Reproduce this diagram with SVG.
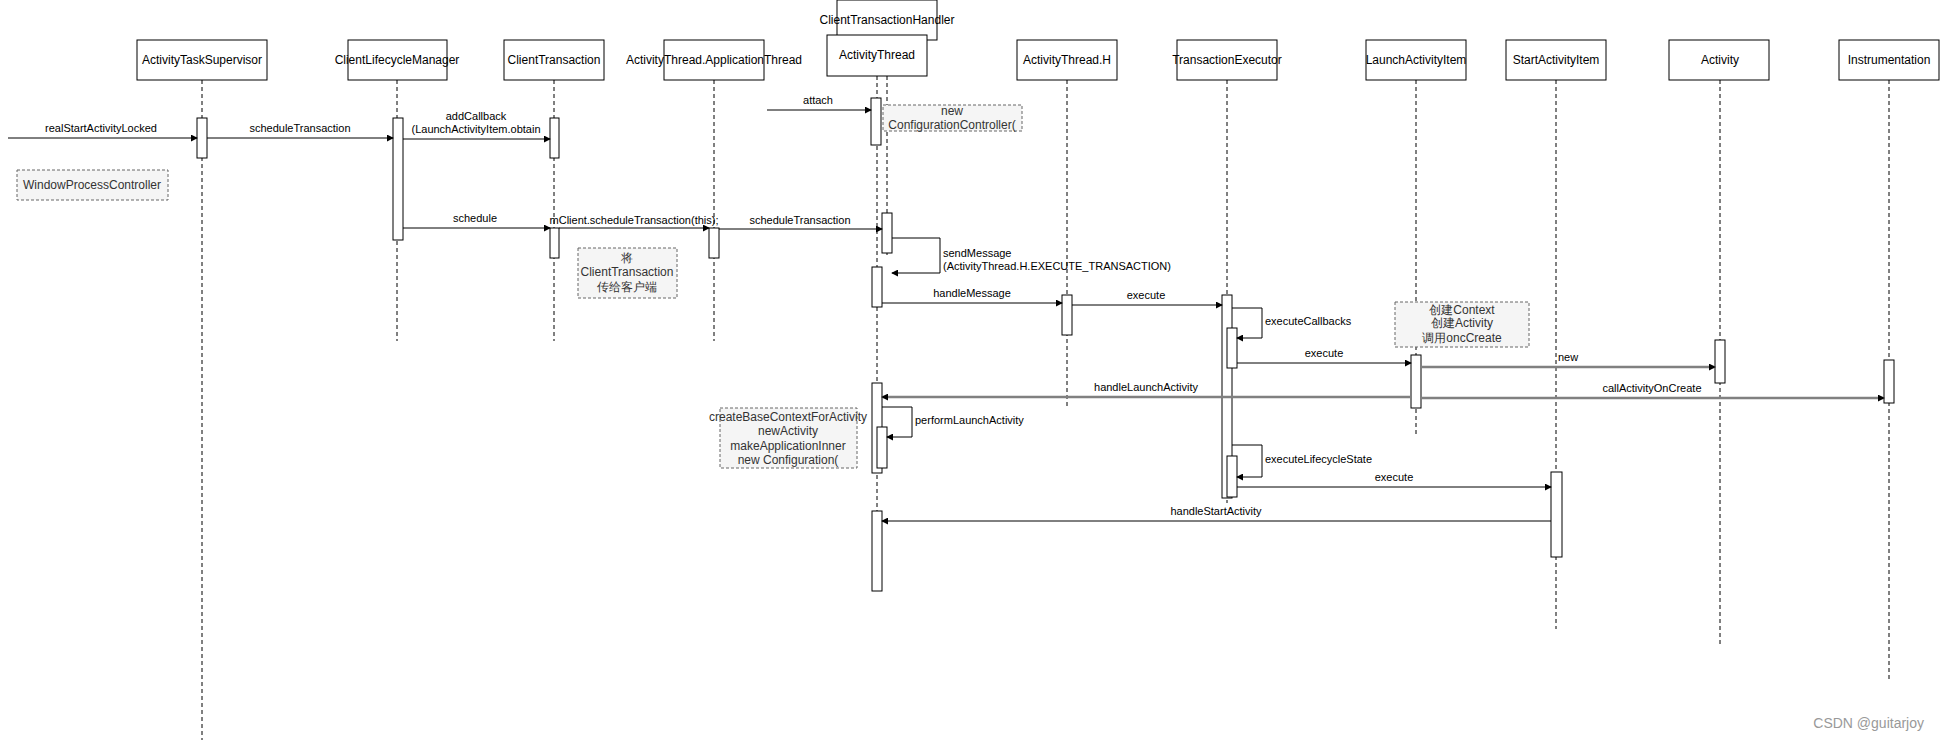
<svg xmlns="http://www.w3.org/2000/svg" width="1942" height="741" viewBox="0 0 1942 741">
<style>
text{font-family:"Liberation Sans",Arial,sans-serif;font-size:11px;fill:#000}
.c{text-anchor:middle}
.hd{fill:#fff;stroke:#000;stroke-width:1}
.hd+text{font-size:12px}
.ll{stroke:#000;stroke-dasharray:4 3;fill:none}
.act{fill:#fff;stroke:#000}
.m{stroke:#000;fill:none;marker-end:url(#a)}
.g{stroke:#808080;stroke-width:2.5;fill:none;marker-end:url(#a)}
.note{fill:#f5f5f5;stroke:#666;stroke-dasharray:3 2}
.nt{fill:#333;font-size:12px}
</style>
<defs><marker id="a" viewBox="0 0 8 8" refX="7" refY="4" markerWidth="7" markerHeight="7" markerUnits="userSpaceOnUse" orient="auto"><path d="M0,0L8,4L0,8z" fill="#000"/></marker></defs>
<rect width="1942" height="741" fill="#fff"/>
<g id="ClientTransactionHandler"><rect class="hd" x="837" y="0" width="100" height="40"/><text class="c" x="887" y="24">ClientTransactionHandler</text><line class="ll" x1="887" y1="76" x2="887" y2="258"/></g>
<g id="ActivityTaskSupervisor"><line class="ll" x1="202" y1="80" x2="202" y2="740"/><rect class="hd" x="137" y="40" width="130" height="40"/><text class="c" x="202" y="64">ActivityTaskSupervisor</text></g>
<g id="ClientLifecycleManager"><line class="ll" x1="397" y1="80" x2="397" y2="341"/><rect class="hd" x="348" y="40" width="99" height="40"/><text class="c" x="397" y="64">ClientLifecycleManager</text></g>
<g id="ClientTransaction"><line class="ll" x1="554" y1="80" x2="554" y2="341"/><rect class="hd" x="504" y="40" width="100" height="40"/><text class="c" x="554" y="64">ClientTransaction</text></g>
<g id="ApplicationThread"><line class="ll" x1="714" y1="80" x2="714" y2="341"/><rect class="hd" x="664" y="40" width="100" height="40"/><text class="c" x="714" y="64">ActivityThread.ApplicationThread</text></g>
<g id="ActivityThread"><line class="ll" x1="877" y1="76" x2="877" y2="591"/><rect class="hd" x="827" y="35" width="100" height="41"/><text class="c" x="877" y="59">ActivityThread</text></g>
<g id="ActivityThreadH"><line class="ll" x1="1067" y1="80" x2="1067" y2="407"/><rect class="hd" x="1017" y="40" width="100" height="40"/><text class="c" x="1067" y="64">ActivityThread.H</text></g>
<g id="TransactionExecutor"><line class="ll" x1="1227" y1="80" x2="1227" y2="503"/><rect class="hd" x="1177" y="40" width="100" height="40"/><text class="c" x="1227" y="64">TransactionExecutor</text></g>
<g id="LaunchActivityItem"><line class="ll" x1="1416" y1="80" x2="1416" y2="437"/><rect class="hd" x="1366" y="40" width="100" height="40"/><text class="c" x="1416" y="64">LaunchActivityItem</text></g>
<g id="StartActivityItem"><line class="ll" x1="1556" y1="80" x2="1556" y2="629"/><rect class="hd" x="1506" y="40" width="100" height="40"/><text class="c" x="1556" y="64">StartActivityItem</text></g>
<g id="Activity"><line class="ll" x1="1720" y1="80" x2="1720" y2="647"/><rect class="hd" x="1669" y="40" width="100" height="40"/><text class="c" x="1720" y="64">Activity</text></g>
<g id="Instrumentation"><line class="ll" x1="1889" y1="80" x2="1889" y2="682"/><rect class="hd" x="1839" y="40" width="100" height="40"/><text class="c" x="1889" y="64">Instrumentation</text></g>
<g id="activations">
<rect class="act" x="197" y="118" width="10" height="40"/>
<rect class="act" x="393" y="118" width="10" height="122"/>
<rect class="act" x="550" y="118" width="9" height="40"/>
<rect class="act" x="550" y="228" width="9" height="30"/>
<rect class="act" x="709" y="228" width="10" height="30"/>
<rect class="act" x="871" y="98" width="10" height="47"/>
<rect class="act" x="882" y="213" width="10" height="40"/>
<rect class="act" x="872" y="267" width="10" height="40"/>
<rect class="act" x="872" y="383" width="10" height="90"/>
<rect class="act" x="877" y="427" width="10" height="41"/>
<rect class="act" x="872" y="511" width="10" height="80"/>
<rect class="act" x="1062" y="295" width="10" height="40"/>
<rect class="act" x="1222" y="295" width="10" height="203"/>
<rect class="act" x="1227" y="328" width="10" height="40"/>
<rect class="act" x="1227" y="456" width="10" height="41"/>
<rect class="act" x="1411" y="355" width="10" height="53"/>
<rect class="act" x="1715" y="340" width="10" height="43"/>
<rect class="act" x="1884" y="360" width="10" height="43"/>
<rect class="act" x="1551" y="472" width="11" height="85"/>
</g>
<g id="notes">
<rect class="note" x="17" y="170" width="151" height="30"/><text class="c nt" x="92" y="189">WindowProcessController</text>
<rect class="note" x="883" y="105" width="139" height="26"/><text class="c nt" x="952" y="115">new</text><text class="c nt" x="952" y="129">ConfigurationController(</text>
<rect class="note" x="578" y="248" width="99" height="50"/><text class="c nt" x="627" y="262">将</text><text class="c nt" x="627" y="276">ClientTransaction</text><text class="c nt" x="627" y="291">传给客户端</text>
<rect class="note" x="1395" y="302" width="134" height="45"/><text class="c nt" x="1462" y="314">创建Context</text><text class="c nt" x="1462" y="327">创建Activity</text><text class="c nt" x="1462" y="342">调用oncCreate</text>
<rect class="note" x="720" y="408" width="137" height="60"/><text class="c nt" x="788" y="421">createBaseContextForActivity</text><text class="c nt" x="788" y="435">newActivity</text><text class="c nt" x="788" y="450">makeApplicationInner</text><text class="c nt" x="788" y="464">new Configuration(</text>
</g>
<g id="connectors">
<line class="m" x1="8" y1="138" x2="197" y2="138"/><text class="c" x="101" y="132">realStartActivityLocked</text>
<line class="m" x1="207" y1="138" x2="393" y2="138"/><text class="c" x="300" y="132">scheduleTransaction</text>
<line class="m" x1="403" y1="139" x2="550" y2="139"/><text class="c" x="476" y="120">addCallback</text><text class="c" x="476" y="133">(LaunchActivityItem.obtain</text>
<line class="m" x1="767" y1="110" x2="871" y2="110"/><text class="c" x="818" y="104">attach</text>
<line class="m" x1="403" y1="228" x2="550" y2="228"/><text class="c" x="475" y="222">schedule</text>
<line class="m" x1="559" y1="228" x2="709" y2="228"/><text class="c" x="634" y="224">mClient.scheduleTransaction(this);</text>
<line class="m" x1="719" y1="229" x2="882" y2="229"/><text class="c" x="800" y="224">scheduleTransaction</text>
<path class="m" d="M892,238H940V273H892"/><text x="943" y="257">sendMessage</text><text x="943" y="270">(ActivityThread.H.EXECUTE_TRANSACTION)</text>
<line class="m" x1="882" y1="303" x2="1062" y2="303"/><text class="c" x="972" y="297">handleMessage</text>
<line class="m" x1="1072" y1="305" x2="1222" y2="305"/><text class="c" x="1146" y="299">execute</text>
<path class="m" d="M1232,308H1262V338H1237"/><text x="1265" y="325">executeCallbacks</text>
<line class="m" x1="1237" y1="363" x2="1411" y2="363"/><text class="c" x="1324" y="357">execute</text>
<line class="g" x1="1421" y1="367" x2="1715" y2="367"/><text class="c" x="1568" y="361">new</text>
<line class="g" x1="1411" y1="397" x2="882" y2="397"/><text class="c" x="1146" y="391">handleLaunchActivity</text>
<line class="g" x1="1421" y1="398" x2="1884" y2="398"/><text class="c" x="1652" y="392">callActivityOnCreate</text>
<path class="m" d="M882,407H912V437H887"/><text x="915" y="424">performLaunchActivity</text>
<path class="m" d="M1232,445H1262V477H1237"/><text x="1265" y="463">executeLifecycleState</text>
<line class="m" x1="1237" y1="487" x2="1551" y2="487"/><text class="c" x="1394" y="481">execute</text>
<line class="m" x1="1551" y1="521" x2="882" y2="521"/><text class="c" x="1216" y="515">handleStartActivity</text>
</g>
<text x="1924" y="728" text-anchor="end" style="fill:#999;font-size:14px">CSDN @guitarjoy</text>
</svg>
